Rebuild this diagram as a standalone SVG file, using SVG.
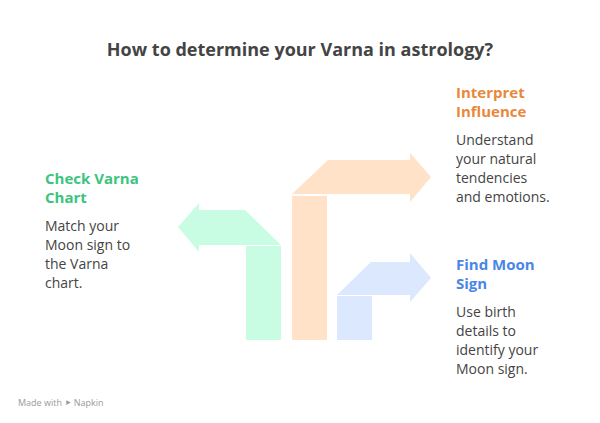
<svg xmlns="http://www.w3.org/2000/svg" width="600" height="423" viewBox="0 0 600 423">
<style>
text{font-family:"Open Sans","Liberation Sans",sans-serif}
.t{font-size:15px;font-weight:bold}
.b{font-size:14px;fill:#444}
</style>
<rect width="600" height="423" fill="#fff"/>
<text x="300" y="56" text-anchor="middle" font-size="18" font-weight="bold" fill="#444">How to determine your Varna in astrology?</text>
<g id="connectors"/>
<g id="arrow-green" fill="#c9fde3">
<rect x="246" y="246" width="35" height="94"/>
<polygon points="281,245 245,210 199,210 199,203 178,227 199,252 199,245"/>
</g>
<g id="arrow-orange" fill="#ffe2c8">
<rect x="292" y="196" width="35" height="144"/>
<polygon points="292,194 328,160 410,160 410,153 431,177 410,202 410,194"/>
</g>
<g id="arrow-blue" fill="#dce8fe">
<rect x="337" y="296" width="35" height="44"/>
<polygon points="337,295 371,262 410,262 410,253 431,278 410,302 410,295"/>
</g>
<g id="check-varna">
<text class="t" fill="#3cc47f"><tspan x="45" y="184">Check Varna</tspan><tspan x="45" y="203">Chart</tspan></text>
<text class="b"><tspan x="45" y="231">Match your</tspan><tspan x="45" y="250">Moon sign to</tspan><tspan x="45" y="269">the Varna</tspan><tspan x="45" y="288">chart.</tspan></text>
</g>
<g id="interpret">
<text class="t" fill="#e8883c"><tspan x="456" y="98">Interpret</tspan><tspan x="456" y="117">Influence</tspan></text>
<text class="b"><tspan x="456" y="145">Understand</tspan><tspan x="456" y="164">your natural</tspan><tspan x="456" y="183">tendencies</tspan><tspan x="456" y="202">and emotions.</tspan></text>
</g>
<g id="find-moon">
<text class="t" fill="#4a86e8"><tspan x="456" y="270">Find Moon</tspan><tspan x="456" y="289">Sign</tspan></text>
<text class="b"><tspan x="456" y="317">Use birth</tspan><tspan x="456" y="336">details to</tspan><tspan x="456" y="355">identify your</tspan><tspan x="456" y="374">Moon sign.</tspan></text>
</g>
<text x="18" y="406" font-size="9" fill="#999">Made with ⯈ Napkin</text>
</svg>
